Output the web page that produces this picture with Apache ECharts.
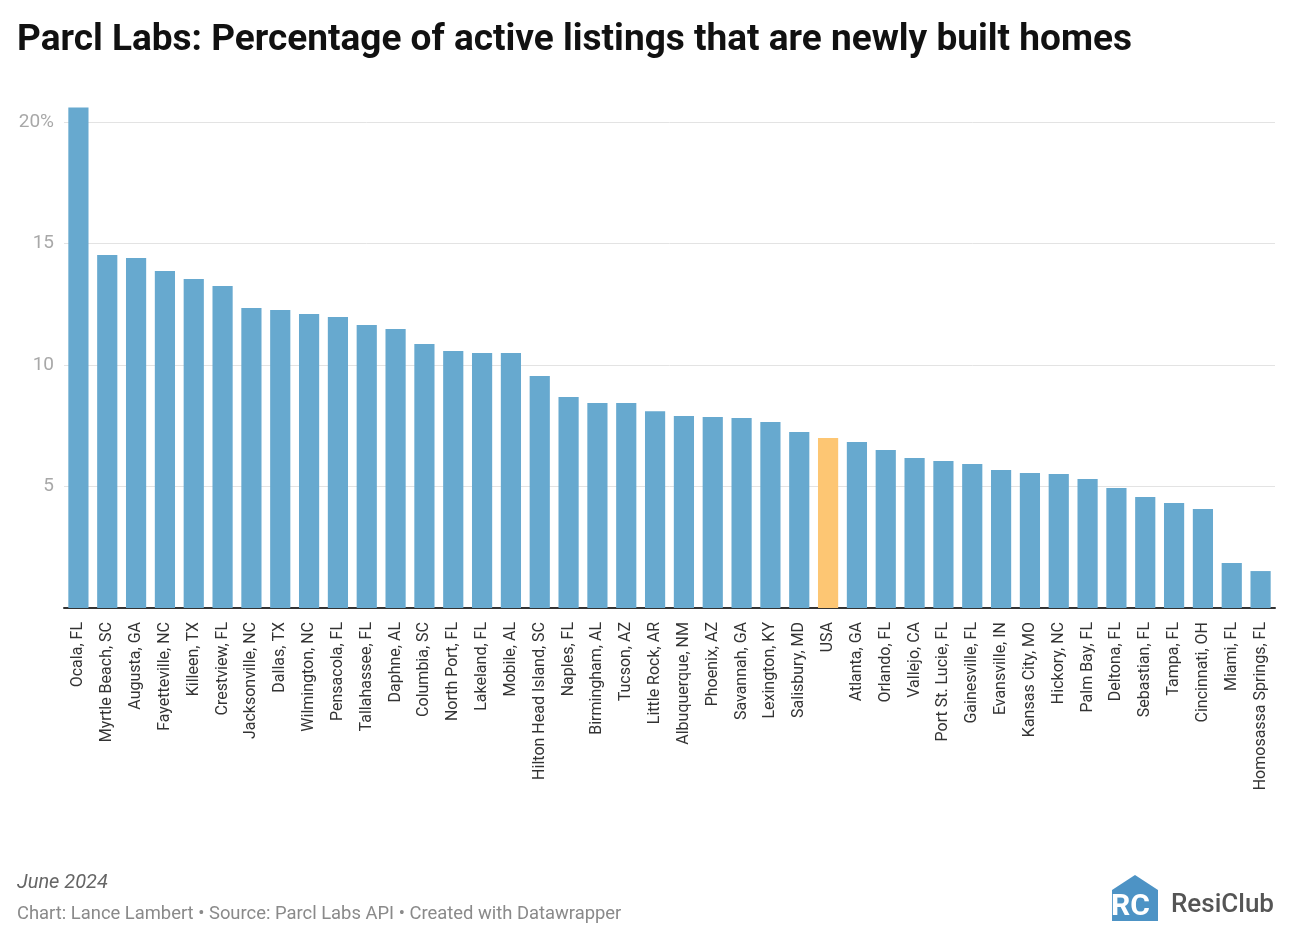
<!DOCTYPE html>
<html><head><meta charset="utf-8">
<script src="https://cdn.jsdelivr.net/npm/echarts@6/dist/echarts.min.js"></script>
<style>html,body{margin:0;padding:0;background:#fff}#c{width:1292px;height:943px}</style>
</head><body><div id="c"></div>
<script>
const categories = ["Ocala, FL","Myrtle Beach, SC","Augusta, GA","Fayetteville, NC","Killeen, TX","Crestview, FL","Jacksonville, NC","Dallas, TX","Wilmington, NC","Pensacola, FL","Tallahassee, FL","Daphne, AL","Columbia, SC","North Port, FL","Lakeland, FL","Mobile, AL","Hilton Head Island, SC","Naples, FL","Birmingham, AL","Tucson, AZ","Little Rock, AR","Albuquerque, NM","Phoenix, AZ","Savannah, GA","Lexington, KY","Salisbury, MD","USA","Atlanta, GA","Orlando, FL","Vallejo, CA","Port St. Lucie, FL","Gainesville, FL","Evansville, IN","Kansas City, MO","Hickory, NC","Palm Bay, FL","Deltona, FL","Sebastian, FL","Tampa, FL","Cincinnati, OH","Miami, FL","Homosassa Springs, FL"];
const values = [20.6,14.53,14.4,13.87,13.54,13.25,12.35,12.26,12.1,11.98,11.65,11.48,10.86,10.58,10.49,10.49,9.55,8.68,8.44,8.44,8.1,7.9,7.86,7.82,7.65,7.24,7.0,6.83,6.5,6.17,6.05,5.93,5.68,5.56,5.51,5.31,4.94,4.57,4.32,4.07,1.85,1.52];
const highlight = "USA";
const yTicks = [0,5,10,15,20];

const chart = echarts.init(document.getElementById('c'));
chart.setOption({
  animation:false,
  textStyle:{fontFamily:'Roboto'},
  title:{text:'Parcl Labs: Percentage of active listings that are newly built homes',left:12,top:17,
    textStyle:{fontSize:37,fontWeight:'bold',color:'#111',fontFamily:'Roboto'}},
  grid:{left:64,right:17,top:122,bottom:335,containLabel:false},
  xAxis:{type:'category',data:categories,
    axisLine:{show:true,lineStyle:{color:'#333',width:2}},
    axisTick:{show:false},
    axisLabel:{rotate:90,interval:0,margin:14,color:'#333',fontSize:16,fontFamily:'Roboto'}},
  yAxis:{type:'value',min:0,max:20,interval:5,
    axisLine:{show:false},axisTick:{show:false},
    splitLine:{lineStyle:{color:'#e3e3e3',width:1}},
    axisLabel:{margin:10,color:'#a8a8a8',fontSize:19,fontFamily:'Roboto',
      formatter:v=>v===0?'':(v===20?'20%':String(v))}},
  series:[{type:'bar',clip:false,barCategoryGap:'30%',
    data:values.map((v,i)=>({value:v,itemStyle:{color:categories[i]===highlight?'#fdc673':'#67a9cf'}}))}],
  graphic:[
    {type:'text',left:17,top:873,style:{text:'June 2024',font:'italic 20px Roboto',fill:'#666'}},
    {type:'text',left:17,top:905,style:{text:'Chart: Lance Lambert • Source: Parcl Labs API • Created with Datawrapper',font:'18.4px Roboto',fill:'#8a8a8a'}},
    {type:'polygon',shape:{points:[[1112,890],[1135,875],[1158,890],[1158,921],[1112,921]]},style:{fill:'#4d93c5'}},
    {type:'text',x:1111,y:892,style:{text:'RC',font:'bold 30px Roboto',fill:'#fff'}},
    {type:'text',left:1171,top:892,style:{text:'ResiClub',font:'500 26px Roboto',fill:'#555'}}
  ]
});
</script></body></html>
